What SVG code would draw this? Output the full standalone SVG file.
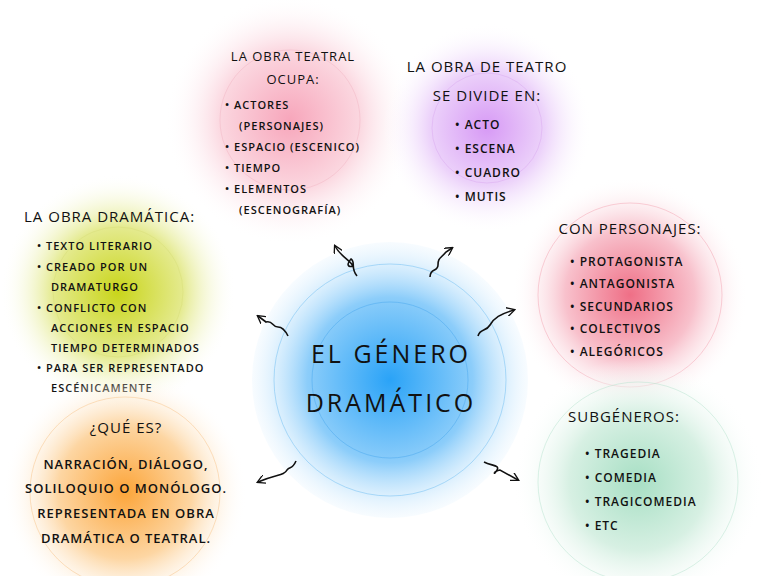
<svg xmlns="http://www.w3.org/2000/svg" width="768" height="576" viewBox="0 0 768 576">
<defs>
<radialGradient id="gb"><stop offset="0" stop-color="#2aa3f7"/><stop offset="0.6" stop-color="#8ccdfa"/><stop offset="1" stop-color="#e6f4fe" stop-opacity="0.3"/></radialGradient>
<radialGradient id="gp"><stop offset="0" stop-color="#f7a6bb"/><stop offset="0.55" stop-color="#fbd6df"/><stop offset="1" stop-color="#fff" stop-opacity="0"/></radialGradient>
<radialGradient id="gv"><stop offset="0" stop-color="#d79af5"/><stop offset="0.55" stop-color="#ecd2fa"/><stop offset="1" stop-color="#fff" stop-opacity="0"/></radialGradient>
<radialGradient id="gy"><stop offset="0" stop-color="#c9d51a"/><stop offset="0.55" stop-color="#e4ea8e"/><stop offset="1" stop-color="#fff" stop-opacity="0"/></radialGradient>
<radialGradient id="gr"><stop offset="0" stop-color="#ef6f86"/><stop offset="0.55" stop-color="#f8c1cc"/><stop offset="1" stop-color="#fff" stop-opacity="0"/></radialGradient>
<radialGradient id="go"><stop offset="0" stop-color="#fca53a"/><stop offset="0.55" stop-color="#fdd6a3"/><stop offset="1" stop-color="#fff" stop-opacity="0"/></radialGradient>
<radialGradient id="gg"><stop offset="0" stop-color="#a7dfc4"/><stop offset="0.55" stop-color="#d7f0e3"/><stop offset="1" stop-color="#fff" stop-opacity="0"/></radialGradient>
<marker id="ah" viewBox="0 0 10 10" refX="8" refY="5" markerWidth="9" markerHeight="9" orient="auto" markerUnits="userSpaceOnUse"><path d="M0,0 L9,5 L0,10" fill="none" stroke="#111" stroke-width="1.5"/></marker>
</defs>
<style>
text{font-family:"Open Sans","DejaVu Sans",sans-serif;fill:#111;letter-spacing:1px;font-weight:600}
.t{font-size:15px;font-weight:500}.l{font-size:11px}.c{font-size:25px;letter-spacing:3px;font-weight:500}
.ring{fill:none;stroke-width:1;stroke-opacity:0.5}
.con path{fill:none;stroke:#111;stroke-width:1.6;marker-end:url(#ah)}
</style>
<rect width="768" height="576" fill="#fff"/>
<g id="teatral"><circle cx="290" cy="120" r="125" fill="url(#gp)"/><circle cx="290" cy="120" r="70" class="ring" stroke="#f2b6c4"/>
<text x="293" y="61" text-anchor="middle" style="font-size:13px;font-weight:500">LA OBRA TEATRAL</text><text x="293" y="84" text-anchor="middle" style="font-size:13px;font-weight:500">OCUPA:</text>
<g class="l"><text x="225" y="109">•  ACTORES</text><text x="239" y="130">(PERSONAJES)</text><text x="225" y="151">•  ESPACIO (ESCENICO)</text><text x="225" y="172">•  TIEMPO</text><text x="225" y="193">•  ELEMENTOS</text><text x="239" y="214">(ESCENOGRAFÍA)</text></g></g>
<g id="divide"><circle cx="487" cy="128" r="105" fill="url(#gv)"/><circle cx="487" cy="128" r="55" class="ring" stroke="#d9a9f0"/>
<text class="t" x="487" y="72" text-anchor="middle">LA OBRA DE TEATRO</text><text class="t" x="487" y="101" text-anchor="middle">SE DIVIDE EN:</text>
<g class="l" style="font-size:12px"><text x="455" y="129">•  ACTO</text><text x="455" y="153">•  ESCENA</text><text x="455" y="177">•  CUADRO</text><text x="455" y="201">•  MUTIS</text></g></g>
<g id="dramatica"><circle cx="118" cy="292" r="118" fill="url(#gy)"/><circle cx="118" cy="292" r="65" class="ring" stroke="#d8de7a"/>
<text class="t" x="24" y="222">LA OBRA DRAMÁTICA:</text>
<g class="l"><text x="37" y="250">•  TEXTO LITERARIO</text><text x="37" y="271">•  CREADO POR UN</text><text x="51" y="291">DRAMATURGO</text><text x="37" y="312">•  CONFLICTO CON</text><text x="51" y="332">ACCIONES EN ESPACIO</text><text x="51" y="352">TIEMPO DETERMINADOS</text><text x="37" y="372">•  PARA SER REPRESENTADO</text><text x="51" y="392">ESCÉNICAMENTE</text></g></g>
<g id="personajes"><circle cx="630" cy="295" r="118" fill="url(#gr)"/><circle cx="630" cy="295" r="92" class="ring" stroke="#f3a5b3"/>
<text class="t" x="630" y="234" text-anchor="middle">CON PERSONAJES:</text>
<g class="l" style="font-size:12px"><text x="570" y="266">•  PROTAGONISTA</text><text x="570" y="288">•  ANTAGONISTA</text><text x="570" y="311">•  SECUNDARIOS</text><text x="570" y="333">•  COLECTIVOS</text><text x="570" y="356">•  ALEGÓRICOS</text></g></g>
<g id="quees"><circle cx="125" cy="492" r="122" fill="url(#go)"/><circle cx="125" cy="492" r="95" class="ring" stroke="#f8c48a"/>
<text class="t" x="126" y="433" text-anchor="middle">¿QUÉ ES?</text>
<g style="font-size:13px"><text x="126" y="469" text-anchor="middle">NARRACIÓN, DIÁLOGO,</text><text x="126" y="493" text-anchor="middle">SOLILOQUIO O MONÓLOGO.</text><text x="126" y="518" text-anchor="middle">REPRESENTADA EN OBRA</text><text x="126" y="543" text-anchor="middle">DRAMÁTICA O TEATRAL.</text></g></g>
<g id="subgeneros"><circle cx="638" cy="482" r="125" fill="url(#gg)"/><circle cx="638" cy="482" r="100" class="ring" stroke="#b8e4cf"/>
<text class="t" x="624" y="422" text-anchor="middle">SUBGÉNEROS:</text>
<g class="l" style="font-size:12px"><text x="585" y="458">•  TRAGEDIA</text><text x="585" y="482">•  COMEDIA</text><text x="585" y="506">•  TRAGICOMEDIA</text><text x="585" y="530">•  ETC</text></g></g>
<g id="centro"><circle cx="390" cy="380" r="138" fill="url(#gb)"/><circle cx="390" cy="380" r="116" class="ring" stroke="#6fbdf2"/><circle cx="390" cy="380" r="78" class="ring" stroke="#4aa8ee"/>
<text class="c" x="391" y="363" text-anchor="middle">EL GÉNERO</text><text class="c" x="391" y="412" text-anchor="middle">DRAMÁTICO</text></g>
<g class="con">
<path d="M357,276 C350,268 356,262 351,259 C346,264 348,268 353,266 C350,260 340,256 335,246"/>
<path d="M430,277 C430,268 438,272 438,265 C438,258 440,259 446,252 L452,248"/>
<path d="M478,336 C480,328 486,332 490,325 C494,318 500,314 514,310"/>
<path d="M288,336 C285,330 282,327 278,327 C272,327 273,320 266,322 L258,316"/>
<path d="M296,461 C292,470 290,466 287,470 C284,476 276,474 258,482"/>
<path d="M484,462 C492,466 500,465 497,470 C494,476 492,472 500,470 L518,480"/>
</g>
</svg>
